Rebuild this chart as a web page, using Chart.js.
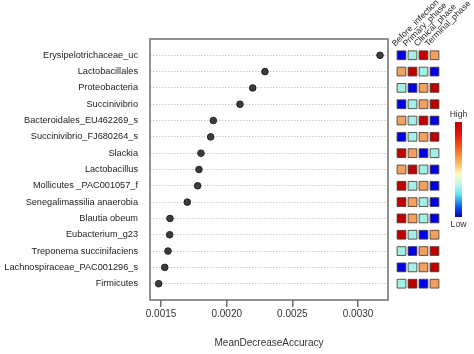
<!DOCTYPE html>
<html>
<head>
<meta charset="utf-8">
<script src="https://cdn.jsdelivr.net/npm/chart.js@4.4.1/dist/chart.umd.min.js"></script>
<style>
  html, body { margin: 0; padding: 0; background: #ffffff; }
  #wrap { position: relative; width: 474px; height: 354px; overflow: hidden; }
  #c1 { position: absolute; left: 0; top: 0; }
  #c2 { position: absolute; left: 386px; top: 0; }
</style>
</head>
<body>
<div id="wrap">
  <canvas id="c1" width="474" height="354"></canvas>
  <canvas id="c2" width="88" height="354"></canvas>
</div>
<script>
// ---------- data ----------
const taxa = [
  "Erysipelotrichaceae_uc",
  "Lactobacillales",
  "Proteobacteria",
  "Succinivibrio",
  "Bacteroidales_EU462269_s",
  "Succinivibrio_FJ680264_s",
  "Slackia",
  "Lactobacillus",
  "Mollicutes _PAC001057_f",
  "Senegalimassilia anaerobia",
  "Blautia obeum",
  "Eubacterium_g23",
  "Treponema succinifaciens",
  "Lachnospiraceae_PAC001296_s",
  "Firmicutes"
];
const meanDecreaseAccuracy = [
  0.003167, 0.002291, 0.002198, 0.002101, 0.001898,
  0.001878, 0.001804, 0.001789, 0.001779, 0.001700,
  0.001568, 0.001566, 0.001553, 0.001528, 0.001482
];
const xTickValues = [0.0015, 0.0020, 0.0025, 0.0030];
const xTitle = "MeanDecreaseAccuracy";

const phases = ["Before_infection", "Primary_phase", "Clinical_phase", "Terminal_phase"];
// relative level per taxon (1 = low ... 4 = high)
const beforeInfection = [1,3,2,1,3,1,4,3,4,4,4,4,2,1,2];
const primaryPhase    = [2,4,1,2,2,2,3,4,2,3,3,2,1,2,4];
const clinicalPhase   = [4,2,3,3,4,3,1,2,3,2,2,1,3,3,1];
const terminalPhase   = [3,1,4,4,1,4,2,1,1,1,1,3,4,4,3];
const phaseValues = [beforeInfection, primaryPhase, clinicalPhase, terminalPhase];
const levelColors = { 1: "#0000e8", 2: "#a2f0e6", 3: "#f2a25e", 4: "#c00000" };
const legendLabels = ["High", "Low"];

const FONT = "'Liberation Sans', Arial, Helvetica, sans-serif";

// ---------- main dot chart ----------
const boxPlugin = {
  id: 'box',
  afterDatasetsDraw(chart) {
    const a = chart.chartArea, ctx = chart.ctx;
    ctx.save();
    ctx.strokeStyle = '#6e6e6e';
    ctx.lineWidth = 1.5;
    ctx.strokeRect(a.left, a.top, a.right - a.left, a.bottom - a.top);
    ctx.restore();
  }
};

new Chart(document.getElementById('c1'), {
  type: 'scatter',
  data: {
    datasets: [{
      data: meanDecreaseAccuracy.map((v, i) => ({ x: v, y: i })),
      backgroundColor: '#3c3c3c',
      borderColor: '#222222',
      borderWidth: 1,
      pointRadius: 3.3,
      pointHoverRadius: 3.3
    }]
  },
  options: {
    responsive: false,
    devicePixelRatio: 1,
    animation: false,
    events: [],
    layout: { padding: { left: 0, right: 86, top: 39, bottom: 0 } },
    plugins: { legend: { display: false }, tooltip: { enabled: false } },
    scales: {
      x: {
        type: 'linear',
        min: 0.001416,
        max: 0.003228,
        afterBuildTicks: s => { s.ticks = xTickValues.map(v => ({ value: v })); },
        afterFit: s => { s.height = 54; s.paddingLeft = 0; s.paddingRight = 0; },
        border: { display: false },
        grid: { drawOnChartArea: false, drawTicks: true, tickLength: 7, color: '#6e6e6e', lineWidth: 1.5 },
        ticks: {
          callback: v => Number(v).toFixed(4),
          font: { family: FONT, size: 10 },
          color: '#333333',
          padding: 1,
          maxRotation: 0,
          autoSkip: false
        },
        title: {
          display: true,
          text: xTitle,
          font: { family: FONT, size: 10 },
          color: '#333333',
          padding: { top: 0, bottom: 5 }
        }
      },
      y: {
        type: 'linear',
        min: -1,
        max: 15,
        reverse: true,
        afterBuildTicks: s => { s.ticks = taxa.map((t, i) => ({ value: i })); },
        afterFit: s => { s.width = 150; },
        border: { display: false, dash: [1.5, 1.5] },
        grid: { drawTicks: false, color: '#cccccc', lineWidth: 1 },
        ticks: {
          callback: v => taxa[v],
          font: { family: FONT, size: 9.2 },
          color: '#222222',
          padding: 12,
          autoSkip: false
        }
      }
    }
  },
  plugins: [boxPlugin]
});

// ---------- heatmap + colour bar ----------
const colorBarPlugin = {
  id: 'colorbar',
  afterDraw(chart) {
    const ctx = chart.ctx;
    const x0 = 69, w = 7, y0 = 122, y1 = 217;
    const g = ctx.createLinearGradient(0, y0, 0, y1);
    g.addColorStop(0.00, '#c00000');
    g.addColorStop(0.15, '#ee1a10');
    g.addColorStop(0.32, '#fb7a2a');
    g.addColorStop(0.45, '#fbc070');
    g.addColorStop(0.55, '#fdfcc0');
    g.addColorStop(0.66, '#bdf7ea');
    g.addColorStop(0.76, '#5fe8ee');
    g.addColorStop(0.90, '#1050f0');
    g.addColorStop(1.00, '#0000b8');
    ctx.save();
    ctx.fillStyle = g;
    ctx.fillRect(x0, y0, w, y1 - y0);
    ctx.fillStyle = '#333333';
    ctx.font = `8.6px ${FONT}`;
    ctx.textAlign = 'center';
    ctx.textBaseline = 'middle';
    ctx.fillText(legendLabels[0], x0 + w / 2, 115);
    ctx.fillText(legendLabels[1], x0 + w / 2, 225);
    ctx.restore();
  }
};

new Chart(document.getElementById('c2'), {
  type: 'scatter',
  data: {
    datasets: phaseValues.map((vals, c) => ({
      data: vals.map((v, i) => ({ x: phases[c], y: i })),
      backgroundColor: vals.map(v => levelColors[v]),
      borderColor: 'rgba(70,60,50,0.85)',
      borderWidth: 1,
      pointStyle: 'rect',
      pointRadius: 6.2,
      pointHoverRadius: 6.2,
      clip: false
    }))
  },
  options: {
    responsive: false,
    devicePixelRatio: 1,
    animation: false,
    events: [],
    layout: { padding: { left: 10, right: 34, top: 0, bottom: 54 } },
    plugins: { legend: { display: false }, tooltip: { enabled: false } },
    scales: {
      x: {
        type: 'category',
        labels: phases,
        position: 'top',
        offset: true,
        afterFit: s => { s.height = 52; s.paddingLeft = 0; s.paddingRight = 0; s.paddingTop = 0; s.paddingBottom = 0; },
        border: { display: false },
        grid: { display: false, drawTicks: false },
        ticks: {
          font: { family: FONT, size: 8.6 },
          color: '#222222',
          minRotation: 45,
          maxRotation: 45,
          padding: 3.3,
          labelOffset: -0.7,
          autoSkip: false
        }
      },
      y: {
        type: 'linear',
        display: false,
        min: -0.2,
        max: 15,
        reverse: true
      }
    }
  },
  plugins: [colorBarPlugin]
});
</script>
</body>
</html>
